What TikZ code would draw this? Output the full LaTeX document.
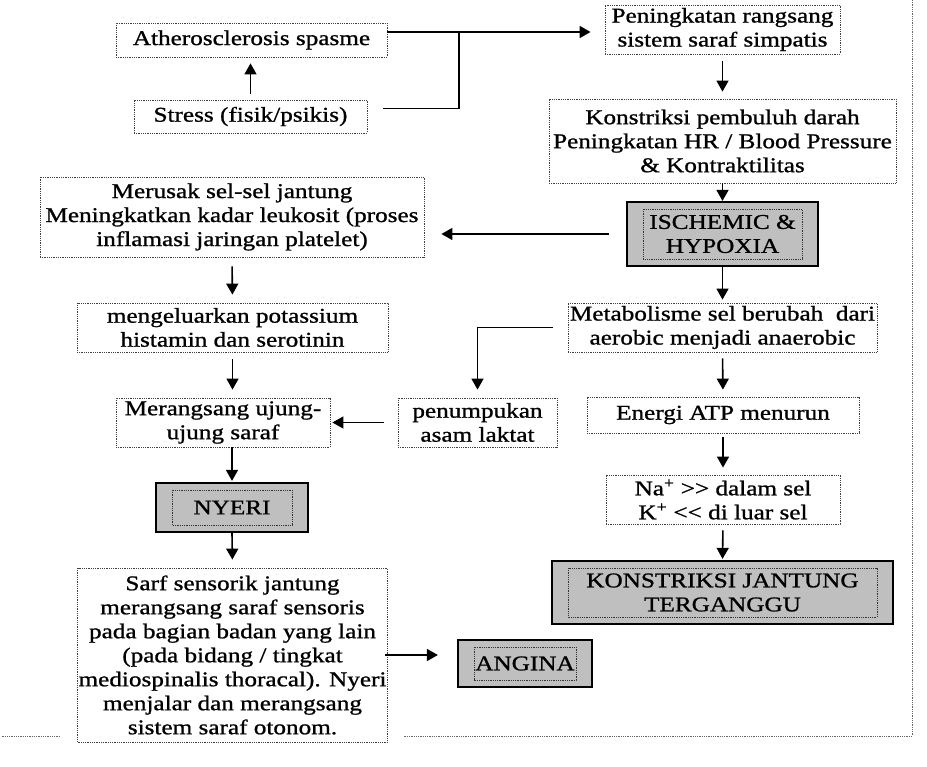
\documentclass[tikz,border=0pt]{standalone}
\usepackage{fontspec}
\setmainfont{Liberation Serif}[FakeStretch=1.2, FakeBold=1]
\usetikzlibrary{arrows.meta}

\begin{document}
\begin{tikzpicture}[x=1pt, y=-1pt,
  font=\fontsize{21}{24}\selectfont,
  textbox/.style={draw=black!75, densely dotted, line width=0.8pt, align=center, inner sep=1pt},
  greybox/.style={draw=black, line width=2.2pt, fill=black!25, align=center, inner sep=1pt,
    path picture={\draw[black!80, densely dotted, line width=0.8pt]
      ([shift={(16pt,-7pt)}]path picture bounding box.north west) rectangle
      ([shift={(-16pt,7pt)}]path picture bounding box.south east);}},
  flow/.style={-{Triangle[length=11pt,width=12pt]}, line width=1.6pt},
  frame/.style={black!60, densely dotted, line width=0.8pt}]

\useasboundingbox (0,0) rectangle (927,767);

\draw[frame] (912,0) -- (912,736) -- (404,736);
\draw[frame] (60,736) -- (2,736);

% top
\node (athero) at (251.5,40) [textbox, minimum width=271pt, minimum height=34pt] {Atherosclerosis spasme};
\node (stress) at (250.5,116.5) [textbox, minimum width=233pt, minimum height=33pt] {Stress (fisik/psikis)};
\node (simpatis) at (722.5,29.5) [textbox, minimum width=235pt, minimum height=49pt] {Peningkatan rangsang\\sistem saraf simpatis};
\node (konstriksi) at (722.5,141) [textbox, minimum width=347pt, minimum height=84pt] {Konstriksi pembuluh darah\\Peningkatan HR / Blood Pressure\\\& Kontraktilitas};
\node (ischemic) at (722.5,234) [greybox, minimum width=191pt, minimum height=64pt] {ISCHEMIC \&\\HYPOXIA};

% left column
\node (merusak) at (232,217) [textbox, minimum width=384pt, minimum height=80pt] {Merusak sel-sel jantung\\Meningkatkan kadar leukosit (proses\\inflamasi jaringan platelet)};
\node (meng) at (232.5,327.5) [textbox, minimum width=311pt, minimum height=49pt] {mengeluarkan potassium\\histamin dan serotinin};
\node (merangsang) at (223,422.5) [textbox, minimum width=214pt, minimum height=49pt] {Merangsang ujung-\\ujung saraf};
\node (penumpukan) at (477.5,422.5) [textbox, minimum width=159pt, minimum height=49pt] {penumpukan\\asam laktat};
\node (nyeri) at (232,507.5) [greybox, minimum width=152pt, minimum height=49pt] {NYERI};
\node (sarf) at (232.5,655) [textbox, minimum width=309pt, minimum height=174pt] {Sarf sensorik jantung\\merangsang saraf sensoris\\pada bagian badan yang lain\\(pada bidang / tingkat\\mediospinalis thoracal). Nyeri\\menjalar dan merangsang\\sistem saraf otonom.};
\node (angina) at (525,663.5) [greybox, minimum width=134pt, minimum height=47pt] {ANGINA};

% right column
\node (metab) at (722.5,327.5) [textbox, minimum width=309pt, minimum height=49pt] {Metabolisme sel berubah\ \ dari\\aerobic menjadi anaerobic};
\node (energi) at (723,415) [textbox, minimum width=272pt, minimum height=36pt] {Energi ATP menurun};
\node (na) at (723,499.5) [textbox, minimum width=234pt, minimum height=49pt] {Na\textsuperscript{+} >{}> dalam sel\\K\textsuperscript{+} <{}< di luar sel};
\node (jantung) at (722.5,592.5) [greybox, minimum width=341pt, minimum height=63pt] {KONSTRIKSI JANTUNG\\TERGANGGU};

% arrows
\coordinate (join) at (459,32);
\draw[flow] ([yshift=8pt]athero.east) -- ([xshift=-14pt]simpatis.west |- join);
\draw[line width=1.6pt] ([shift={(16pt,8pt)}]stress.east) -| (join);
\draw[flow, shorten <=6pt, shorten >=6pt] (stress.north) -- (stress.north |- athero.south);
\draw[flow, shorten <=7pt, shorten >=7pt] (simpatis.south) -- (konstriksi.north);
\draw[flow] (konstriksi.south) -- (ischemic.north);
\draw[flow, shorten >=3pt] (ischemic.south) -- (metab.north);
\draw[flow, shorten <=17pt, shorten >=17pt] (ischemic.west) -- (ischemic.west -| merusak.east);
\draw[flow, shorten <=9pt, shorten >=8pt] (merusak.south) -- (meng.north);
\draw[flow, shorten <=7pt, shorten >=8pt] (meng.south) -- (meng.south |- merangsang.north);
\draw[flow, shorten >=1pt] (nyeri.north |- merangsang.south) -- (nyeri.north);
\draw[flow, shorten >=8pt] (nyeri.south) -- (sarf.north);
\draw[flow, shorten <=-3pt, shorten >=19pt] (sarf.east) -- (sarf.east -| angina.west);
\draw[flow, shorten <=14pt, shorten >=2pt] (penumpukan.west) -- (penumpukan.west -| merangsang.east);
\draw[flow, shorten >=8pt] ([xshift=-15pt]metab.west) -| (penumpukan.north);
\draw[flow, shorten <=6pt, shorten >=7pt] (metab.south) -- (energi.north);
\draw[flow, shorten <=4pt, shorten >=7pt] (energi.south) -- (na.north);
\draw[flow, shorten <=6pt, shorten >=1pt] (na.south) -- (jantung.north);

\end{tikzpicture}
\end{document}
